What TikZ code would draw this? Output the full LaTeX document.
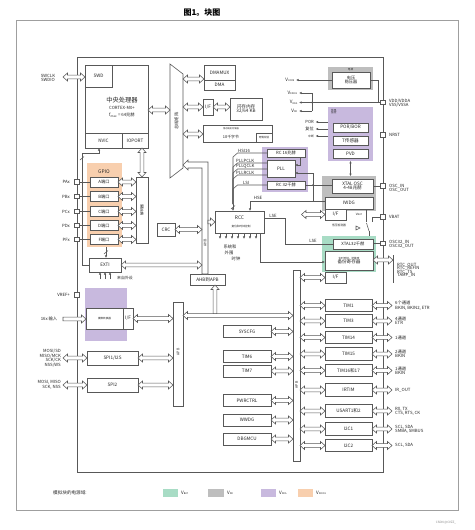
\documentclass[tikz,border=0pt]{standalone}
\usepackage{fontspec}
\setmainfont{Noto Sans CJK SC}
\usetikzlibrary{arrows.meta,calc}
\definecolor{lc}{HTML}{585858}
\definecolor{tc}{HTML}{262626}
\definecolor{gbat}{HTML}{A8DCC5}
\definecolor{gdd}{HTML}{BEBEBE}
\definecolor{gdda}{HTML}{C8B9DE}
\definecolor{gio}{HTML}{F8CFAE}
\newcommand\fs[1]{\fontsize{#1}{#1}\selectfont}
\newcommand\vsub[1]{V\raisebox{-0.5pt}{\fontsize{2.4}{3}\selectfont #1}}
\newcommand\bx[7][]{\node[box,minimum width={((#5)-(#3))*1pt},minimum height={((#6)-(#4))*1pt},#1] (#2) at ({((#3)+(#5))/2},{((#4)+(#6))/2}) {#7};}
\newcommand\hdar[3]{\path[dbla] let \p1=(#1 |- 0,#3), \p2=(#2 |- 0,#3) in
  (\x1,\y1) -- (\x1+4.5pt,\y1+4pt) -- (\x1+4.5pt,\y1+1.8pt) -- (\x2-4.5pt,\y1+1.8pt) -- (\x2-4.5pt,\y1+4pt) -- (\x2,\y1) -- (\x2-4.5pt,\y1-4pt) -- (\x2-4.5pt,\y1-1.8pt) -- (\x1+4.5pt,\y1-1.8pt) -- (\x1+4.5pt,\y1-4pt) -- cycle;}
\newcommand\harr[3]{\path[dbla] let \p1=(#1 |- 0,#3), \p2=(#2 |- 0,#3) in
  (\x1,\y1+1.8pt) -- (\x2-4.5pt,\y1+1.8pt) -- (\x2-4.5pt,\y1+4pt) -- (\x2,\y1) -- (\x2-4.5pt,\y1-4pt) -- (\x2-4.5pt,\y1-1.8pt) -- (\x1,\y1-1.8pt) -- cycle;}
\newcommand\vdar[3]{\path[dbla] let \p1=(#3,0 |- #1), \p2=(#3,0 |- #2) in
  (\x1,\y1) -- (\x1+4pt,\y1-4.5pt) -- (\x1+1.8pt,\y1-4.5pt) -- (\x1+1.8pt,\y2+4.5pt) -- (\x1+4pt,\y2+4.5pt) -- (\x1,\y2) -- (\x1-4pt,\y2+4.5pt) -- (\x1-1.8pt,\y2+4.5pt) -- (\x1-1.8pt,\y1-4.5pt) -- (\x1-4pt,\y1-4.5pt) -- cycle;}
\newcommand\uarr[3]{\path[dbla] let \p1=(#3,0 |- #1), \p2=(#3,0 |- #2) in
  (\x1-1.8pt,\y1) -- (\x1-1.8pt,\y2-4.5pt) -- (\x1-4pt,\y2-4.5pt) -- (\x1,\y2) -- (\x1+4pt,\y2-4.5pt) -- (\x1+1.8pt,\y2-4.5pt) -- (\x1+1.8pt,\y1) -- cycle;}
\begin{document}
\begin{tikzpicture}[x=1pt,y=-1pt,
  box/.style={draw=lc,fill=white,line width=0.6pt,inner sep=0pt,outer sep=0pt,text=tc,font=\fs{4.6},align=center},
  region/.style={box,draw=none},
  pinbox/.style={draw=lc,fill=white,line width=0.6pt,minimum size=4.5pt,inner sep=0pt},
  txt/.style={text=tc,inner sep=0pt,font=\fs{4.3},align=center},
  dbla/.style={draw=lc,fill=white,line width=0.55pt},
  ln/.style={draw=lc,line width=0.55pt},
  sarr/.style={draw=lc,line width=0.55pt,-{Latex[length=2.6pt,width=2.4pt]}}]
\useasboundingbox (0,0) rectangle (474,530);
\fill[white] (0,0) rectangle (474,530);
\node[font=\fs{8}\bfseries,text=black] (title) at (202,13) {图1。块图};
\bx[draw=gray!75,line width=1pt]{outer}{16}{20}{458}{510}{}
\bx[line width=0.7pt]{chip}{77}{57}{383}{472}{}
% power domain regions
\bx[region,fill=gdd]{regg}{328}{67}{373}{90}{}
\bx[region,fill=gdda]{pwrmon}{328}{107}{373}{161}{}
\bx[region,fill=gdd]{oscg}{322}{176}{376}{211}{}
\bx[region,fill=gdda]{pllg}{262}{147}{308}{192}{}
\bx[region,fill=gbat]{batg}{322}{236}{376}{272}{}
\bx[region,fill=gio]{gpiog}{87}{163}{122}{247}{}
\bx[region,fill=gdda]{adcg}{85}{288}{127}{341}{}
% CPU
\bx{cpu}{85}{65}{148}{148}{}
\bx{swd}{85}{65}{112}{87}{SWD}
\bx{nvic}{85}{133}{122}{148}{NVIC}
\bx{ioport}{122}{133}{148}{148}{IOPORT}
\node[txt,font=\fs{6.3}] (cpun) at (122,100) {中央处理器};
\node[txt,font=\fs{4.3}] (cpum) at (122,108) {CORTEX-M0+};
\node[txt,font=\fs{4.3}] (cpuf) at (122,115) {f\textsubscript{max} = 64兆赫};
\node[txt,align=center] (swl) at (48,78) {SWCLK\\[-0.5pt]SWDIO};
\coordinate (swa) at (63,0);
\hdar{swa}{swd.west}{77}
% bus matrix
\coordinate (busL) at (170,120);
\coordinate (busR) at (183,120);
\draw[ln,fill=white,line width=0.6pt] (170,64) -- (183,74) -- (183,168) -- (170,178) -- cycle;
\node[txt,rotate=90,font=\fs{4.3}] (busn) at (176.5,121) {总线矩阵};
\hdar{cpu.east}{busL}{110}
% memories
\bx{dmamux}{204}{65}{235}{80}{DMAMUX}
\bx{dma}{204}{80}{235}{90}{DMA}
\bx{iff}{203}{99}{213}{115}{I/F}
\bx{flash}{230}{98}{262}{120}{闪存内存\\32/64 KB}
\bx{sram}{203}{125}{272}{142}{}
\node[txt,font=\fs{2.2}] (sramt) at (231,129) {静态随机存储器};
\node[txt,font=\fs{3.9}] (sramk) at (231,137) {18千字节};
\bx[font=\fs{2.6}]{parity}{256}{133}{272}{142}{奇偶校验}
\hdar{busR}{dmamux.west}{79}
\hdar{busR}{iff.west}{107}
\hdar{iff.east}{flash.west}{107}
\hdar{busR}{sram.west}{134}
% regulator & supplies
\bx[font=\fs{4.1}]{regi}{332}{72}{370}{88}{电压\\稳压器}
\node[txt,font=\fs{2.6}] (regt) at (350.5,69.5) {电源};
\coordinate (vcorea) at (296,80);
\coordinate (vdioa) at (299,93);
\coordinate (vddaa) at (299,102.5);
\coordinate (vdd2) at (299,111);
\coordinate (pjt) at (312,93);
\coordinate (pjm) at (312,102.5);
\coordinate (pjb) at (312,111);
\node[pinbox] (vddp) at (383,102.5) {};
\draw[sarr] (regi.west |- vcorea) -- (vcorea);
\draw[sarr] (pjt) -- (vdioa);
\draw[sarr] (pjm) -- (vddaa);
\draw[sarr] (pjb) -- (vdd2);
\draw[ln] (pjt) -- (pjb);
\draw[ln] (pjm) -- (vddp.west);
\draw[ln] (regi.east) -- (378,80) -- (378,102.5);
\fill[lc] (pjm) circle (0.9);
\node[txt,anchor=east,font=\fs{4.6}] at (294.5,80) {\vsub{CORE}};
\node[txt,anchor=east,font=\fs{4.6}] at (297.5,93) {\vsub{DDIO1}};
\node[txt,anchor=east,font=\fs{4.6}] at (297.5,102.5) {\vsub{DDA}};
\node[txt,anchor=east,font=\fs{4.6}] at (297.5,111) {\vsub{DD}};
\node[txt,anchor=west,align=left] (vddl) at (389,103) {VDD/VDDA\\[-0.5pt]VSS/VSSA};
% power monitor
\node[txt,font=\fs{2.6},align=left,anchor=north west] (pwrt) at (331,109) {供电\\监控};
\bx{porbor}{333}{123}{368}{132}{POR/BOR}
\bx{tsens}{333}{136}{368}{145}{T传感器}
\bx{pvd}{333}{149}{368}{158}{PVD}
\foreach \lt/\yy/\fz in {POR/122/4.2,复位/129/4.2,中断/136/2.8} {
  \coordinate (pa\yy) at (315.5,\yy);
  \draw[sarr] (pwrmon.west |- pa\yy) -- (pa\yy);
  \node[txt,anchor=east,font=\fs{\fz}] at (314,\yy) {\lt};
}
\node[pinbox] (nrst) at (383,135) {};
\node[txt,anchor=west] at (389,135) {NRST};
\draw[draw=lc,line width=0.55pt,{Latex[length=2.4pt,width=2.4pt]}-{Latex[length=2.4pt,width=2.4pt]}] (pwrmon.south) -- (pwrmon.south |- oscg.north);
% oscillators
\bx{xtal}{332}{179}{373}{193}{XTAL OSC\\4-48兆赫}
\bx{iwdg}{325}{197}{373}{209}{IWDG}
\bx{iwdgif}{325}{209}{346}{220}{I/F}
\node[pinbox] (oscp) at (383,186) {};
\node[txt,anchor=west,align=left] at (389,188) {OSC\_IN\\[-0.5pt]OSC\_OUT};
\draw[ln] (xtal.east |- oscp) -- (oscp.west);
\node[pinbox] (vbatp) at (383,217) {};
\node[txt,anchor=west] at (389,217) {VBAT};
\node[txt,font=\fs{3}] at (359,214.5) {\vsub{BAT}};
\node[txt,font=\fs{2.8}] at (339,225.5) {低压检测器};
\draw[ln,fill=white] (356,226) -- (360,228) -- (356,230) -- cycle;
\draw[ln] (vbatp.west) -- (372,217) -- (372,222);
\draw[ln] (366,209) -- (366,222);
\draw[ln] (369,231) -- (366.5,223);
\draw[ln] (369,231) -- (369,0 |- batg.north);
\bx[font=\fs{4.3}]{xtal32}{333}{239}{373}{249}{XTAL32千赫}
\bx{rtc}{325}{251}{373}{270}{{\fs{2.6}实时时钟、防篡改}\\备份寄存器}
\bx{rtcif}{325}{272}{346}{283}{I/F}
\node[pinbox] (osc32p) at (383,243.5) {};
\node[txt,anchor=west,align=left] at (389,244.5) {OSC32\_IN\\[-0.5pt]OSC32\_OUT};
\draw[ln] (xtal32.east |- osc32p) -- (osc32p.west);
\coordinate (rtcb) at (393,260);
\hdar{rtc.east}{rtcb}{260}
\draw[ln] (393,255) -- (393,283);
\node[txt,anchor=west,align=left] at (397,270) {RTC\_OUT\\[-0.8pt]RTC\_REFIN\\[-0.8pt]RTC\_TS\\[-0.8pt]TAMP\_IN};
% PLL group
\bx[font=\fs{4.3}]{rc16}{267}{149}{305}{157}{RC 16兆赫}
\bx{pll}{267}{160}{295}{177}{PLL}
\bx[font=\fs{4.3}]{rc32}{267}{181}{305}{189}{RC 32千赫}
\draw[sarr] (rc16.south -| 300,0) -- (300,165) -- (pll.east |- 0,165);
\coordinate (hj) at (313,185);
\draw[ln] (rc32.east |- hj) -- (xtal.west |- hj);
\fill[lc] (hj) circle (0.9);
\draw[sarr] (hj) -- (313,173) -- (pll.east |- 0,173);
\bx{rcc}{215}{211}{264}{233}{}
\node[txt,font=\fs{4.9}] at (239.5,217.5) {RCC};
\node[txt,font=\fs{2.7}] at (241,226) {复位和时钟控制};
\draw[sarr] (hj) -- (313,201) -- (250,201) -- (250,0 |- rcc.north);
\draw[ln] (313,201) -- (iwdg.west |- 0,201);
\node[txt] at (258,197.5) {HSE};
\coordinate (ck) at (233,204);
\foreach \src/\yy/\lt/\lx in {rc16/153/HSI16/238,pll/163/PLLPCLK/236,pll/169/PLLQCLK/236,pll/175/PLLRCLK/236,rc32/185/LSI/243} {
  \draw[ln] (\src.west |- 0,\yy) -- (237.5,\yy) -- (233,\yy+4) -- (ck);
  \node[txt,anchor=south west] at (\lx,\yy-0.6) {\lt};
}
\draw[sarr] (ck) -- (ck |- rcc.north);
\draw[ln] (231,209) -- (235,205.5);
\foreach \xx in {220,226,232,238,244,250,256} \draw[sarr] (\xx,0 |- rcc.south) -- ++(0,6);
\node[txt] at (230,247) {系统和};
\node[txt] at (229,253) {外围};
\node[txt] at (236,259) {时钟};
\draw[ln] (rcc.east |- 0,218.5) -- (285,218.5) -- (285,244) -- (xtal32.west |- 0,244);
\node[txt] at (273,215.5) {LSE};
\node[txt] at (313,240.5) {LSE};
\draw[sarr] (260,0 |- rcc.south) -- (260,262) -- (rtc.west |- 0,262);
% AHB bus
\bx{ahb2apb}{190}{274}{225}{285}{AHB到APB}
\path[dbla] let \p1=(busR |- 0,165), \p2=(205,0 |- ahb2apb.north) in
  (\x1,\y1) -- (\x1+5pt,\y1+5pt) -- (\x1+5pt,\y1+3pt) -- (\x2+3pt,\y1+3pt) -- (\x2+3pt,\y2) -- (\x2-3pt,\y2) -- (\x2-3pt,\y1-3pt) -- (\x1+5pt,\y1-3pt) -- (\x1+5pt,\y1-5pt) -- cycle;
\node[txt,rotate=90,font=\fs{3.5}] at (205,243) {AHB};
\coordinate (ahbl) at (202,0);
\coordinate (ahbr) at (208,0);
\bx{crc}{157}{223}{175}{236}{CRC}
\hdar{crc.east}{ahbl}{229.5}
\harr{ahbr}{rcc.west}{222}
% GPIO
\node[txt,font=\fs{4.9}] (gpiot) at (104,172) {GPIO};
\bx{dec}{136}{177}{148}{243}{}
\node[txt,rotate=90,font=\fs{3.8}] at (142,210) {解码器};
\foreach \nm/\lt/\yy in {a/A/182,b/B/196.5,c/C/211.5,d/D/225.5,f/F/239.5} {
  \bx[font=\fs{4.3}]{port\nm}{90}{\yy-5}{118}{\yy+5}{\lt{}端口}
  \node[pinbox] (pin\nm) at (77,\yy) {};
  \node[txt,anchor=east] at (70,\yy) {P\lt{}x};
  \draw[ln] (pin\nm) -- (port\nm);
  \hdar{port\nm.east}{dec.west}{\yy}
}
\vdar{ioport.south}{dec.north}{142}
\bx{exti}{89}{258}{121}{272}{EXTI}
\hdar{exti.east}{ahbl}{265}
\draw[sarr] (106,0 |- gpiog.south) -- (106,0 |- exti.north);
\draw[ln] (104,254) -- (108,250.5);
\draw[sarr] (exti.west) -- (82,265) -- (82,153) -- (99,153) -- (99,0 |- nvic.south);
\draw[ln] (80,160) -- (84,156.5);
\foreach \xx in {100,105,110} \draw[sarr] (\xx,279) -- (\xx,0 |- exti.south);
\node[txt,anchor=west,font=\fs{3.9}] at (117,278) {来自外设};
% ADC
\node[pinbox] (vref) at (77,295) {};
\node[txt,anchor=east] at (70,295) {VREF+};
\bx[font=\fs{2.6}]{adc}{86}{308}{123}{329}{模数转换器}
\bx{adcif}{123}{308}{133}{329}{I/F}
\node[txt] at (49,319) {16x 输入};
\coordinate (inx) at (63,0);
\harr{inx}{adc.west}{319}
% APB bars
\bx{apbL}{173}{302}{183}{406}{}
\node[txt,rotate=90,font=\fs{3.5}] at (178,352) {APB};
\bx{apbR}{293}{270}{300}{461}{}
\node[txt,rotate=90,font=\fs{3.5}] at (296.5,385) {APB};
\hdar{adcif.east}{apbL.west}{318.5}
\hdar{apbL.east}{apbR.west}{315.5}
\coordinate (jn) at (215,313.7);
\uarr{jn}{ahb2apb.south}{215}
% SPI
\bx{spi1}{87}{351}{138}{365}{SPI1/I2S}
\bx{spi2}{87}{378}{138}{392}{SPI2}
\node[txt,anchor=east,align=right] at (61,358) {MOSI/SD\\[0.3pt]MISO/MCK\\[0.3pt]SCK/CK\\[0.3pt]NSS/WS};
\node[txt,anchor=east,align=right] at (61,384.5) {MOSI, MISO\\[0.3pt]SCK, NSS};
\coordinate (spl) at (63,0);
\hdar{spl}{spi1.west}{358}
\hdar{spl}{spi2.west}{385}
\hdar{spi1.east}{apbL.west}{358}
\hdar{spi2.east}{apbL.west}{385}
% left APB peripherals
\foreach \nm/\lt/\yy in {syscfg/SYSCFG/331.5,tim6/TIM6/356.5,tim7/TIM7/371,pwrctrl/PWRCTRL/400.5,wwdg/WWDG/420,dbgmcu/DBGMCU/439} {
  \bx{\nm}{223}{\yy-6}{271}{\yy+6}{\lt}
  \hdar{\nm.east}{apbR.west}{\yy}
}
% right APB peripherals
\coordinate (rx) at (392,0);
\foreach \nm/\lt/\yy/\ds in {tim1/TIM1/305.5/{6个通道\\BKIN, BKIN2, ETR},tim3/TIM3/321/{4通道\\ETR},tim14/TIM14/337.5/{1通道},tim15/TIM15/354/{2通道\\BKIN},tim16/TIM16和17/370.5/{1通道\\BKIN},irtim/IRTIM/390/{IR\_OUT},usart/USART1和2/411/{RX, TX\\CTS, RTS, CK},itwo/I2C1/429/{SCL, SDA\\SMBA, SMBUS},ithree/I2C2/445.5/{SCL, SDA}} {
  \bx{\nm}{325}{\yy-6.25}{372}{\yy+6.25}{\lt}
  \hdar{apbR.east}{\nm.west}{\yy}
  \hdar{\nm.east}{rx}{\yy}
  \node[txt,anchor=west,align=left] at (395,\yy) {\ds};
}
\coordinate (ifl) at (301.5,0);
\hdar{ifl}{iwdgif.west}{214.5}
\hdar{apbR.east}{rtcif.west}{277.5}
% legend
\node[txt,anchor=west,font=\fs{4.6}] (legt) at (53,492.5) {模拟块的电源域:};
\bx[region,fill=gbat]{lgbat}{163}{489}{178}{497}{}
\node[txt,anchor=west,font=\fs{4.6}] at (181,493) {\vsub{BAT}};
\bx[region,fill=gdd]{lgdd}{208}{489}{224}{497}{}
\node[txt,anchor=west,font=\fs{4.6}] at (227,493) {\vsub{DD}};
\bx[region,fill=gdda]{lgdda}{261}{489}{276}{497}{}
\node[txt,anchor=west,font=\fs{4.6}] at (279,493) {\vsub{DDA}};
\bx[region,fill=gio]{lgio}{298}{489}{313}{497}{}
\node[txt,anchor=west,font=\fs{4.6}] at (316,493) {\vsub{DDIO1}};
\node[txt,font=\fs{3},text=gray] at (446,523) {CSDN @CVZZ\_};
\end{tikzpicture}
\end{document}
